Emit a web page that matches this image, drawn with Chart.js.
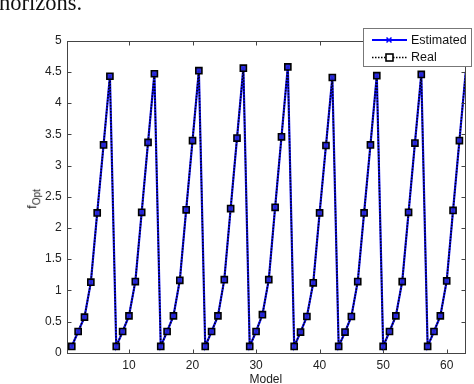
<!DOCTYPE html>
<html><head><meta charset="utf-8">
<script src="https://cdn.jsdelivr.net/npm/chart.js@4.4.0/dist/chart.umd.min.js"></script>
<style>
html,body{margin:0;padding:0;background:#fff;overflow:hidden;}
#wrap{position:relative;width:474px;height:384px;overflow:hidden;background:#fff;}
canvas{position:absolute;left:0;top:0;}
#caption{position:absolute;left:-1px;top:-8px;font:22.5px/22px "Liberation Serif","Times New Roman",serif;color:#111;white-space:nowrap;}
#ylab{position:absolute;left:33px;top:199px;transform:translate(-50%,-50%) rotate(-90deg);font:13px "Liberation Sans",Arial,sans-serif;color:#222;white-space:nowrap;}
#ylab sub{font-size:10px;}
</style></head>
<body><div id="wrap"><canvas id="c" width="474" height="384"></canvas>
<div id="caption">horizons.</div>
<div id="ylab">f<sub>Opt</sub></div></div>
<script>
// ---- data ----
const modelIdx = [1,2,3,4,5,6,7,8,9,10,11,12,13,14,15,16,17,18,19,20,21,22,23,24,25,26,27,28,29,30,31,32,33,34,35,36,37,38,39,40,41,42,43,44,45,46,47,48,49,50,51,52,53,54,55,56,57,58,59,60,61,62,63];
const realValues = [
  0.10,0.34,0.57,1.13,2.24,3.33,4.43,
  0.10,0.34,0.59,1.14,2.25,3.37,4.47,
  0.10,0.34,0.59,1.16,2.29,3.40,4.52,
  0.10,0.34,0.59,1.17,2.31,3.44,4.56,
  0.10,0.34,0.61,1.17,2.33,3.46,4.58,
  0.10,0.33,0.58,1.12,2.24,3.32,4.41,
  0.10,0.33,0.58,1.14,2.24,3.33,4.44,
  0.10,0.34,0.59,1.14,2.25,3.36,4.46,
  0.10,0.34,0.59,1.15,2.28,3.40,4.50];
const estimatedValues = [
  0.10,0.34,0.57,1.13,2.24,3.33,4.43,
  0.10,0.34,0.59,1.14,2.25,3.37,4.47,
  0.10,0.34,0.59,1.16,2.29,3.40,4.52,
  0.10,0.34,0.59,1.17,2.31,3.44,4.56,
  0.10,0.34,0.61,1.17,2.33,3.46,4.58,
  0.10,0.33,0.58,1.12,2.24,3.32,4.41,
  0.10,0.33,0.58,1.14,2.24,3.33,4.44,
  0.10,0.34,0.59,1.14,2.25,3.36,4.46,
  0.10,0.34,0.59,1.15,2.28,3.40,4.50];
const seriesNames = ['Estimated','Real'];
const xTicks = [10,20,30,40,50,60];
const yTicks = [0,0.5,1,1.5,2,2.5,3,3.5,4,4.5,5];
const xTitle = 'Model';
const xMin = 0.2, xMax = 62.88;

const FONT = 'Liberation Sans, Arial, sans-serif';
const toPts = (xs, ys) => xs.map((x,i)=>({x:x, y:ys[i]}));
const inRange = c => c.raw && c.raw.x <= xMax;

const frame = {
  id:'frame',
  afterDraw(chart){
    const {ctx, chartArea:a, scales:{x,y}} = chart;
    ctx.save();
    const L=Math.round(a.left)+0.5, R=Math.round(a.right)+0.5, T=Math.round(a.top)+0.5, B=Math.round(a.bottom)+0.5;
    ctx.strokeStyle='#444'; ctx.lineWidth=1;
    ctx.strokeRect(L,T,R-L,B-T);
    ctx.beginPath();
    yTicks.forEach(v=>{const p=Math.round(y.getPixelForValue(v))+0.5; ctx.moveTo(L,p);ctx.lineTo(L+4,p);ctx.moveTo(R,p);ctx.lineTo(R-4,p);});
    xTicks.forEach(v=>{const p=Math.round(x.getPixelForValue(v))+0.5; ctx.moveTo(p,B);ctx.lineTo(p,B-4);ctx.moveTo(p,T);ctx.lineTo(p,T+4);});
    ctx.stroke();
    // legend
    const lx=363.5, ly=28.5, lw=108, lh=38;
    ctx.fillStyle='#fff'; ctx.fillRect(lx,ly,lw,lh);
    ctx.strokeStyle='#777'; ctx.strokeRect(lx,ly,lw,lh);
    const ds = chart.data.datasets;
    const rows=[40,57.5];
    ctx.strokeStyle='#0000ff'; ctx.lineWidth=2; ctx.setLineDash([]);
    ctx.beginPath(); ctx.moveTo(372,rows[0]); ctx.lineTo(407,rows[0]); ctx.stroke();
    ctx.lineWidth=1.5; ctx.beginPath();
    ctx.moveTo(386.5,rows[0]-2.5);ctx.lineTo(391.5,rows[0]+2.5);ctx.moveTo(391.5,rows[0]-2.5);ctx.lineTo(386.5,rows[0]+2.5);ctx.stroke();
    ctx.strokeStyle='#000'; ctx.lineWidth=1.5; ctx.setLineDash([1.5,1.5]);
    ctx.beginPath(); ctx.moveTo(372,rows[1]); ctx.lineTo(407,rows[1]); ctx.stroke();
    ctx.setLineDash([]); ctx.fillStyle='#fff';
    ctx.fillRect(386,rows[1]-3.5,7,7); ctx.lineWidth=1.6; ctx.strokeRect(386,rows[1]-3.5,7,7);
    ctx.fillStyle='#111'; ctx.font='12.5px '+FONT; ctx.textBaseline='middle'; ctx.textAlign='left';
    ctx.fillText(ds[1].label,411,rows[0]+0.5);
    ctx.fillText(ds[0].label,411,rows[1]+0.5);
    ctx.restore();
  }
};

new Chart(document.getElementById('c'), {
  type:'line',
  data:{datasets:[
    {label:seriesNames[1], data:toPts(modelIdx,realValues), order:1,
     borderColor:'#000', borderWidth:1.5, borderDash:[1.5,1.5], fill:false, tension:0,
     pointStyle:'rect', pointRadius:c=>inRange(c)?4.3:0, pointBorderWidth:1.6, pointBorderColor:'#000',
     pointBackgroundColor:'rgba(40,40,220,0.9)', clip:0},
    {label:seriesNames[0], data:toPts(modelIdx,estimatedValues), order:2,
     borderColor:'#1010ee', borderWidth:2.2, fill:false, tension:0,
     pointStyle:'crossRot', pointRadius:c=>inRange(c)?3:0, pointBorderWidth:1.2, pointBorderColor:'#0000ff', clip:0}
  ]},
  options:{
    responsive:false, animation:false, devicePixelRatio:1,
    layout:{padding:{left:0,top:40.7,right:9,bottom:0}},
    plugins:{legend:{display:false}, tooltip:{enabled:false}},
    scales:{
      x:{type:'linear', min:xMin, max:xMax,
         afterFit:s=>{s.height=31.3;},
         afterBuildTicks:s=>{s.ticks=xTicks.map(v=>({value:v}));},
         grid:{display:false, drawTicks:false}, border:{display:false},
         ticks:{padding:6, color:'#222', font:{family:FONT,size:12}, maxRotation:0, autoSkip:false, callback:v=>String(v)},
         title:{display:true, text:xTitle, color:'#222', font:{family:FONT,size:12,lineHeight:0.8}, padding:0}},
      y:{type:'linear', min:0, max:5,
         afterFit:s=>{s.width=66.7;},
         afterBuildTicks:s=>{s.ticks=yTicks.map(v=>({value:v}));},
         grid:{display:false, drawTicks:false}, border:{display:false},
         ticks:{padding:5, color:'#222', font:{family:FONT,size:12}, autoSkip:false, callback:v=>String(v)}}
    }
  },
  plugins:[frame]
});
</script>
</body></html>
